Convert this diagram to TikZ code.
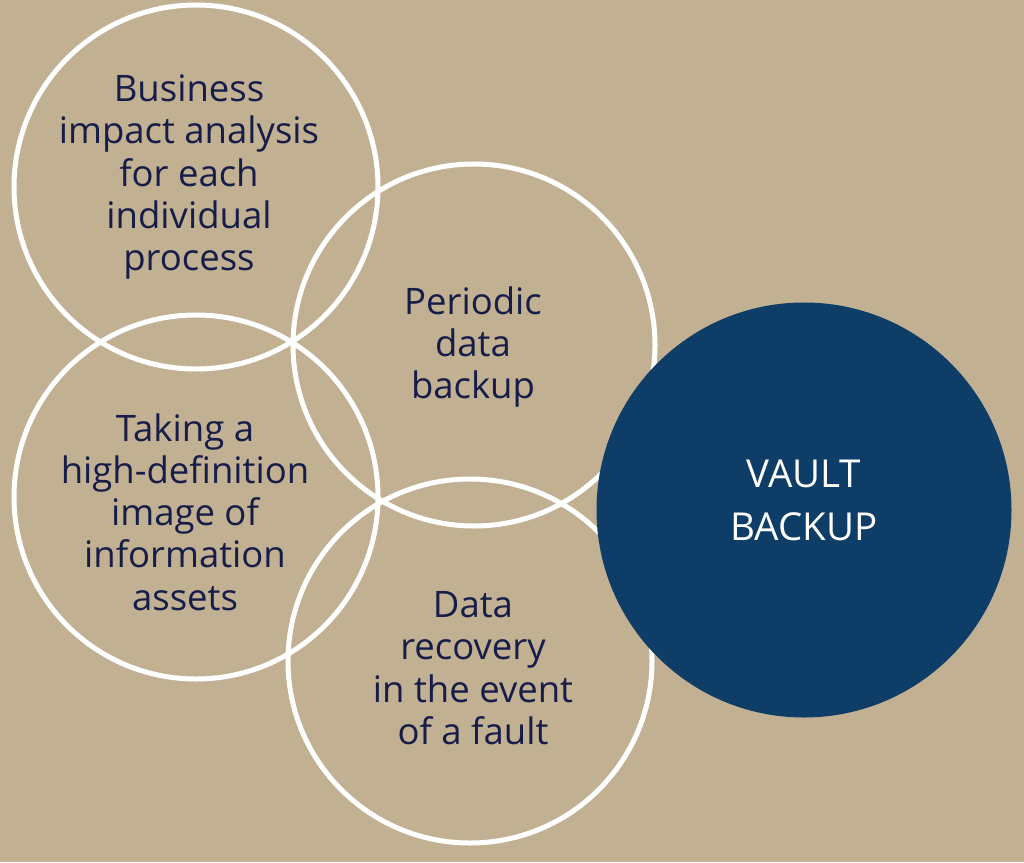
\documentclass[tikz,border=0pt]{standalone}
\usepackage{fontspec}
\setmainfont{Open Sans}
\definecolor{bg}{RGB}{194,176,147}
\definecolor{navy}{RGB}{14,62,103}
\definecolor{ink}{RGB}{22,29,72}
\begin{document}
\begin{tikzpicture}[x=1pt,y=-1pt,
  ring/.style={circle,draw=white,line width=5pt,inner sep=0pt},
  lbl/.style={align=center,text=ink,font=\fontsize{36.5}{42.3}\selectfont},
  vlbl/.style={align=center,text=white,font=\fontsize{38.5}{53}\selectfont}]
\fill[bg] (0,0) rectangle (1024,862);
\useasboundingbox (0,0) rectangle (1024,862);
\node[ring,minimum size=364pt] (c1) at (196,187) {};
\node[ring,minimum size=362pt] (c2) at (474,345) {};
\node[ring,minimum size=364pt] (c3) at (196,497) {};
\node[ring,minimum size=364pt] (c4) at (470,661) {};
\node[circle,fill=navy,inner sep=0pt,minimum size=415pt] (v) at (804,510) {};
\node[lbl] (t1) at (189,177) {Business\\impact analysis\\for each\\individual\\process};
\node[lbl] (t2) at (473,347) {Periodic\\data\\backup};
\node[lbl] (t3) at (185,512) {Taking a\\high-definition\\image of\\information\\assets};
\node[lbl] (t4) at (473,668) {Data\\recovery\\in the event\\of a fault};
\node[vlbl] (tv) at (804,500) {VAULT\\BACKUP};
\end{tikzpicture}
\end{document}
